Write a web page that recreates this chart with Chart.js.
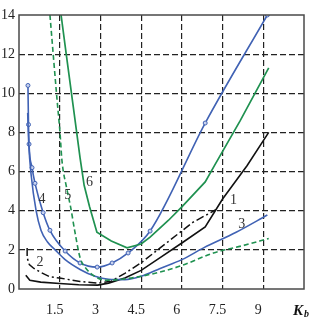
<!DOCTYPE html>
<html><head><meta charset="utf-8">
<script src="https://cdn.jsdelivr.net/npm/chart.js@4.4.0/dist/chart.umd.min.js"></script>
<style>html,body{margin:0;padding:0;background:#fff}</style>
</head><body>
<canvas id="c" width="320" height="320"></canvas>
<script>
const xTicks=[1.5,3,4.5,6,7.5,9];
const yTicks=[0,2,4,6,8,10,12,14];

const curve1X=[0.25,0.4,0.8,1.5,2.2,2.9,3.3,3.9,4.5,5.2,6.0,6.86,7.5,8.4,9.2];
const curve1Y=[0.7,0.45,0.35,0.28,0.22,0.2,0.3,0.56,0.95,1.6,2.35,3.17,4.6,6.3,8.0];

const curve2X=[0.3,0.3,0.38,0.55,0.8,1.14,1.55,2.25,2.9,3.4,3.9,4.54,5.2,6.4,7.25];
const curve2Y=[2.1,1.6,1.25,1.05,0.85,0.62,0.55,0.38,0.3,0.4,0.8,1.38,2.1,3.4,4.05];

const curve3X=[0.32,0.36,0.45,0.63,0.81,1.05,1.33,1.7,2.25,2.8,3.3,3.9,4.5,5.2,6.0,6.8,8.0,9.15];
const curve3Y=[9.0,7.4,5.8,4.0,3.0,2.4,2.0,1.5,1.0,0.65,0.5,0.48,0.65,1.05,1.5,2.1,2.9,3.78];

const curve4X=[0.33,0.35,0.37,0.48,0.59,0.89,1.14,1.7,2.25,2.88,3.43,4.02,4.83,6.86,9.15];
const curve4Y=[10.4,8.4,7.4,6.2,5.4,3.9,3.0,1.94,1.33,1.12,1.33,1.84,2.96,8.48,14.0];

const curve5X=[1.14,1.4,1.51,1.58,1.75,1.9,2.05,2.25,2.5,2.85,3.2,3.8,4.5,5.2,6.0,7.16,8.2,9.2];
const curve5Y=[14,9.7,8.0,6.6,5.2,4.2,3.0,1.6,1.0,0.6,0.45,0.5,0.65,0.87,1.2,1.84,2.2,2.58];

const curve6X=[1.55,1.75,2.0,2.25,2.4,2.6,2.87,3.4,3.98,4.5,4.83,5.5,6.0,6.86,7.2,8.15,9.2];
const curve6Y=[14,11.9,9.3,6.7,5.3,4.2,2.9,2.45,2.1,2.3,2.65,3.5,4.2,5.47,6.3,8.6,11.3];

const curveLabels=['1','2','3','4','5','6'];
const labelX=[7.9,0.77,8.21,0.85,1.8,2.6];
const labelY=[4.55,1.38,3.32,4.6,4.8,5.47];

const BLUE='#4062b4', GREEN='#1f9150', BLACK='#111111';
const pts=(xs,ys)=>xs.map((x,i)=>({x:x,y:ys[i]}));

const frame={id:'frame',afterDraw(chart){
  const c=chart.ctx,a=chart.chartArea;
  c.save();c.strokeStyle='#4a4a4a';c.lineWidth=1.5;
  c.strokeRect(a.left,a.top,a.right-a.left,a.bottom-a.top);
  c.restore();
}};
const texts={id:'texts',afterDatasetsDraw(chart){
  const c=chart.ctx,xs=chart.scales.x,ys=chart.scales.y,a=chart.chartArea;
  c.save();c.fillStyle='#333';c.font='14px "Liberation Serif"';
  c.textAlign='center';c.textBaseline='middle';
  curveLabels.forEach((t,i)=>c.fillText(t,xs.getPixelForValue(labelX[i]),ys.getPixelForValue(labelY[i])));
  c.textAlign='left';c.textBaseline='alphabetic';c.fillStyle='#111';
  c.font='bold italic 15px "Liberation Serif"';
  c.fillText('K',a.right-11,a.bottom+26);
  c.font='bold italic 10px "Liberation Serif"';
  c.fillText('b',a.right,a.bottom+28);
  c.restore();
}};

new Chart(document.getElementById('c'),{
  type:'line',
  data:{datasets:[
    {data:pts(curve5X,curve5Y),borderColor:GREEN,borderWidth:1.6,borderDash:[5,3],pointRadius:0,cubicInterpolationMode:'monotone'},
    {data:pts(curve6X,curve6Y),borderColor:GREEN,borderWidth:1.7,pointRadius:0,tension:0},
    {data:pts(curve3X,curve3Y),borderColor:BLUE,borderWidth:1.6,pointRadius:0,cubicInterpolationMode:'monotone'},
    {data:pts(curve4X,curve4Y),borderColor:BLUE,borderWidth:1.6,pointRadius:2,pointBorderWidth:1,pointBorderColor:BLUE,pointBackgroundColor:'#c8d2ee',cubicInterpolationMode:'monotone'},
    {data:pts(curve2X,curve2Y),borderColor:BLACK,borderWidth:1.5,borderDash:[8,3,2,3],pointRadius:0,tension:0},
    {data:pts(curve1X,curve1Y),borderColor:BLACK,borderWidth:1.6,pointRadius:0,tension:0}
  ]},
  options:{
    responsive:false,animation:false,
    layout:{padding:{top:15,right:16,left:0,bottom:0}},
    plugins:{legend:{display:false},tooltip:{enabled:false}},
    scales:{
      x:{type:'linear',min:0,max:10.5,
        afterBuildTicks:s=>{s.ticks=xTicks.map(v=>({value:v}));},
        afterFit:s=>{s.height=31;},
        border:{display:false,dash:[6,3]},
        grid:{color:'#222',lineWidth:1.2,drawTicks:false},
        ticks:{padding:13,labelOffset:-5,color:'#222',font:{family:'"Liberation Serif"',size:14},callback:v=>String(v)}
      },
      y:{type:'linear',min:0,max:14,
        afterBuildTicks:s=>{s.ticks=yTicks.map(v=>({value:v}));},
        afterFit:s=>{s.width=19;},
        border:{display:false,dash:[6,3]},
        grid:{color:c=>(c.tick&&(c.tick.value===0||c.tick.value===14))?'rgba(0,0,0,0)':'#222',lineWidth:1.2,drawTicks:false},
        ticks:{padding:4,color:'#222',font:{family:'"Liberation Serif"',size:14}}
      }
    }
  },
  plugins:[frame,texts]
});
</script>
</body></html>
